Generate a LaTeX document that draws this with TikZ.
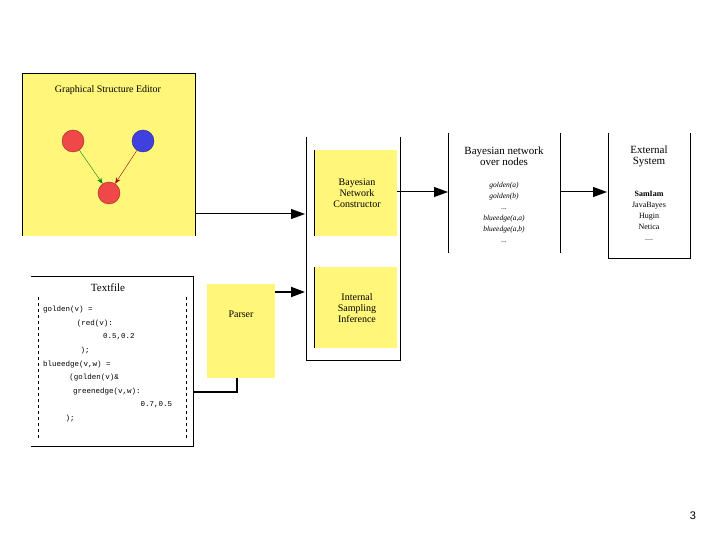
\documentclass[tikz,border=0pt]{standalone}
\usepackage{fontspec}
\setmainfont{Liberation Serif}
\newfontfamily\sansf{Liberation Sans}
\newfontfamily\monof{Liberation Mono}
\usetikzlibrary{arrows.meta}
\definecolor{yel}{HTML}{FFF67A}
\definecolor{rd}{HTML}{F04848}
\definecolor{bl}{HTML}{4040E0}
\begin{document}
\begin{tikzpicture}[x=1pt,y=-1pt,
  ybox/.style={fill=yel,draw=none},
  arr/.style={line width=1pt,-{Triangle[length=14pt,width=10pt]}},
  lab/.style={align=center,font=\fontsize{10}{11}\selectfont}]
\useasboundingbox (0,0) rectangle (720,540);
% graphical editor
\fill[yel] (22,73) rectangle (195,236);
\draw[line width=0.6pt] (22,236) -- (22,73) -- (195,73) -- (195,236);
\node[lab,font=\fontsize{10}{11}\selectfont] (gtitle) at (108,90) {Graphical Structure Editor};
\node[circle,fill=rd,draw=rd!60!black,minimum size=22pt,inner sep=0] (c1) at (73,141) {};
\node[circle,fill=bl,draw=bl!60!black,minimum size=22pt,inner sep=0] (c2) at (143,141) {};
\node[circle,fill=rd,draw=rd!60!black,minimum size=22pt,inner sep=0] (c3) at (109,193) {};
\draw[green!50!black,-{Stealth[length=6pt]}] (c1) -- (c3);
\draw[red!60!black,-{Stealth[length=6pt]}] (c2) -- (c3);
% textfile
\draw[line width=0.6pt] (31,276) -- (193,276) -- (193,446) -- (31,446);
\draw[dashed] (38,297) -- (38,440) (186,297) -- (186,440);
\node[lab,font=\fontsize{11}{12}\selectfont] (tft) at (108,288) {Textfile};
\node[anchor=north west,align=left,inner sep=0,font=\monof\fontsize{7.5}{13.6}\selectfont] (code) at (43,306)
{golden(v) =\\
\hspace*{4.5em}(red(v):\\
\hspace*{8em}0.5,0.2\\
\hspace*{5em});\\
blueedge(v,w) =\\
\hspace*{3.5em}(golden(v)\&\\
\hspace*{4em}greenedge(v,w):\\
\hspace*{13em}0.7,0.5\\
\hspace*{3em});};
% parser
\fill[yel] (207,284) rectangle (275,378);
\node[lab] (parser) at (241,314) {Parser};
\coordinate (pb) at (237,378);
\coordinate (tr) at (193,392);
\draw[line width=2pt] (pb) -- (237,392) -- (tr);
% big box
\draw[line width=0.6pt] (306,137) -- (306,360) -- (400,360) -- (400,137);
\fill[yel] (314,150) rectangle (397,236);
\draw (314,150) -- (314,236);
\node[lab] (bnc) at (357,193) {Bayesian\\Network\\Constructor};
\fill[yel] (314,267) rectangle (397,348);
\draw (314,267) -- (314,348);
\node[lab] (isi) at (357,308) {Internal\\Sampling\\Inference};
% BN box
\draw[line width=0.6pt] (448,133) -- (448,253) (560,133) -- (560,253);
\node[lab,align=center,font=\fontsize{11}{11}\selectfont] (bnt) at (504,156) {Bayesian network\\over nodes};
\node[lab,font=\itshape\fontsize{7.5}{11}\selectfont] (bnl) at (504,212) {golden(a)\\golden(b)\\\upshape...\\blueedge(a,a)\\blueedge(a,b)\\\upshape...};
% external
\draw[line width=0.6pt] (608,133) -- (608,258) -- (690,258) -- (690,133);
\node[lab,font=\fontsize{11}{11}\selectfont] (ext) at (649,156) {External\\System};
\node[lab,font=\fontsize{8}{11}\selectfont] (sys) at (649,216) {\textbf{SamIam}\\JavaBayes\\Hugin\\Netica\\....};
% arrows
\coordinate (g1) at (195,214); \coordinate (b1) at (305,214);
\draw[arr] (g1) -- (b1);
\coordinate (p1) at (275,292); \coordinate (b2) at (305,292);
\draw[line width=2pt,-{Triangle[length=14pt,width=10pt]}] (p1) -- (b2);
\coordinate (b3) at (397,192); \coordinate (n1) at (448,192);
\draw[arr] (b3) -- (n1);
\coordinate (n2) at (560,192); \coordinate (e1) at (607,192);
\draw[arr] (n2) -- (e1);
\node[font=\sansf\fontsize{11}{12}\selectfont] (pg) at (693,516) {3};
\end{tikzpicture}
\end{document}
